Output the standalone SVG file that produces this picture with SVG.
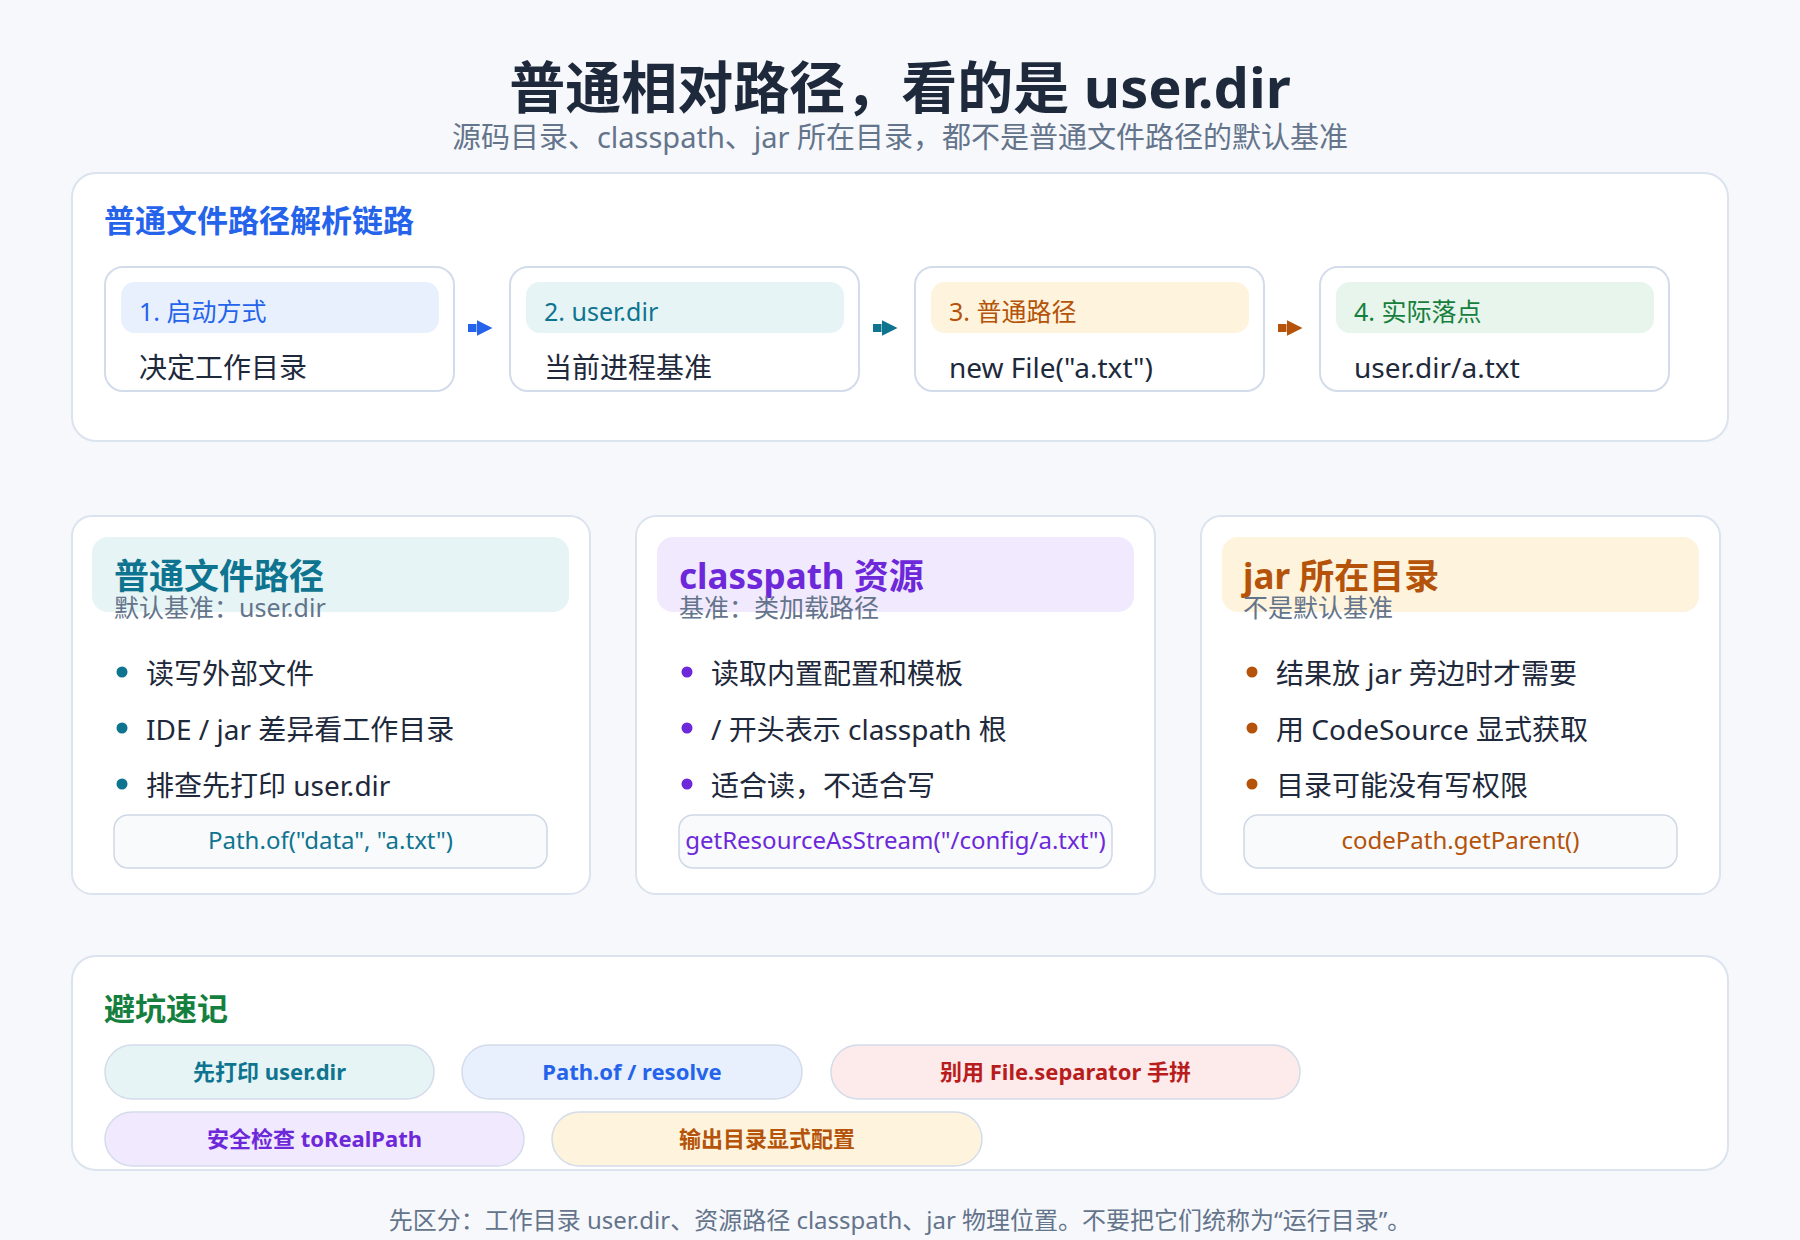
<svg xmlns="http://www.w3.org/2000/svg" width="1800" height="1240" viewBox="0 0 1800 1240">
<defs>
<style>
text{font-family:"Noto Sans","Noto Sans CJK SC",sans-serif}
.panel{fill:#ffffff;stroke:#dbe3ee;stroke-width:2}
.box{fill:#ffffff;stroke:#d3dcea;stroke-width:2}
.code{fill:#f8fafc;stroke:#cfd8e5;stroke-width:1.5}
.pill{stroke:#d3dcea;stroke-width:1.5}
.h1{font-size:56px;font-weight:700;fill:#1e293b}
.sub{font-size:29px;fill:#64748b}
.ptitle{font-size:31px;font-weight:700}
.lbl{font-size:25px}
.main{font-size:28px;fill:#1e293b}
.ctitle{font-size:35px;font-weight:700}
.csub{font-size:25px;fill:#64748b}
.bul{font-size:28px;fill:#1e293b}
.ctext{font-size:24px}
.ptext{font-size:22px;font-weight:700}
.foot{font-size:24px;fill:#64748b}
.blue{fill:#2563eb}.teal{fill:#0e7490}.orange{fill:#b45309}.green{fill:#15803d}.purple{fill:#6d28d9}.red{fill:#b91c1c}
.bg-blue{fill:#e8f0fe}.bg-teal{fill:#e6f4f5}.bg-orange{fill:#fef3dc}.bg-green{fill:#e8f5ec}.bg-purple{fill:#f1e9fd}.bg-red{fill:#fdeaea}
</style>
<marker id="ah-blue" viewBox="0 0 10 10" refX="0" refY="5" markerWidth="16" markerHeight="18" markerUnits="userSpaceOnUse" orient="auto"><path d="M0,0 L10,5 L0,10 z" fill="#2563eb"/></marker>
<marker id="ah-teal" viewBox="0 0 10 10" refX="0" refY="5" markerWidth="16" markerHeight="18" markerUnits="userSpaceOnUse" orient="auto"><path d="M0,0 L10,5 L0,10 z" fill="#0e7490"/></marker>
<marker id="ah-orange" viewBox="0 0 10 10" refX="0" refY="5" markerWidth="16" markerHeight="18" markerUnits="userSpaceOnUse" orient="auto"><path d="M0,0 L10,5 L0,10 z" fill="#b45309"/></marker>
</defs>
<rect x="0" y="0" width="1800" height="1240" fill="#f6f8fc"/>

<g id="header">
<text class="h1" x="900" y="108" text-anchor="middle">普通相对路径，看的是 user.dir</text>
<text class="sub" x="900" y="148" text-anchor="middle">源码目录、classpath、jar 所在目录，都不是普通文件路径的默认基准</text>
</g>

<g id="chain-panel">
<rect class="panel" x="72" y="173" width="1656" height="268" rx="24"/>
<text class="ptitle blue" x="104" y="232">普通文件路径解析链路</text>
</g>

<g id="step1">
<rect class="box" x="105" y="267" width="349" height="124" rx="18"/>
<rect class="bg-blue" x="121" y="282" width="318" height="51" rx="14"/>
<text class="lbl blue" x="139" y="321">1. 启动方式</text>
<text class="main" x="139" y="378">决定工作目录</text>
</g>
<g id="step2">
<rect class="box" x="510" y="267" width="349" height="124" rx="18"/>
<rect class="bg-teal" x="526" y="282" width="318" height="51" rx="14"/>
<text class="lbl teal" x="544" y="321">2. user.dir</text>
<text class="main" x="544" y="378">当前进程基准</text>
</g>
<g id="step3">
<rect class="box" x="915" y="267" width="349" height="124" rx="18"/>
<rect class="bg-orange" x="931" y="282" width="318" height="51" rx="14"/>
<text class="lbl orange" x="949" y="321">3. 普通路径</text>
<text class="main" x="949" y="378">new File("a.txt")</text>
</g>
<g id="step4">
<rect class="box" x="1320" y="267" width="349" height="124" rx="18"/>
<rect class="bg-green" x="1336" y="282" width="318" height="51" rx="14"/>
<text class="lbl green" x="1354" y="321">4. 实际落点</text>
<text class="main" x="1354" y="378">user.dir/a.txt</text>
</g>

<g id="connectors">
<line x1="468" y1="328" x2="476.5" y2="328" stroke="#2563eb" stroke-width="8" marker-end="url(#ah-blue)"/>
<line x1="873" y1="328" x2="881.5" y2="328" stroke="#0e7490" stroke-width="8" marker-end="url(#ah-teal)"/>
<line x1="1278" y1="328" x2="1286.5" y2="328" stroke="#b45309" stroke-width="8" marker-end="url(#ah-orange)"/>
</g>

<g id="card-file">
<rect class="panel" x="72" y="516" width="518" height="378" rx="20"/>
<rect class="bg-teal" x="92" y="537" width="477" height="75" rx="16"/>
<text class="ctitle teal" x="114" y="589">普通文件路径</text>
<text class="csub" x="114" y="617">默认基准：user.dir</text>
<circle class="teal" cx="122" cy="672" r="5.5"/>
<text class="bul" x="146" y="684">读写外部文件</text>
<circle class="teal" cx="122" cy="728" r="5.5"/>
<text class="bul" x="146" y="740">IDE / jar 差异看工作目录</text>
<circle class="teal" cx="122" cy="784" r="5.5"/>
<text class="bul" x="146" y="796">排查先打印 user.dir</text>
<rect class="code" x="114" y="815" width="433" height="53" rx="14"/>
<text class="ctext teal" x="330.5" y="849" text-anchor="middle">Path.of("data", "a.txt")</text>
</g>

<g id="card-classpath">
<rect class="panel" x="636" y="516" width="519" height="378" rx="20"/>
<rect class="bg-purple" x="657" y="537" width="477" height="75" rx="16"/>
<text class="ctitle purple" x="679" y="589">classpath 资源</text>
<text class="csub" x="679" y="617">基准：类加载路径</text>
<circle class="purple" cx="687" cy="672" r="5.5"/>
<text class="bul" x="711" y="684">读取内置配置和模板</text>
<circle class="purple" cx="687" cy="728" r="5.5"/>
<text class="bul" x="711" y="740">/ 开头表示 classpath 根</text>
<circle class="purple" cx="687" cy="784" r="5.5"/>
<text class="bul" x="711" y="796">适合读，不适合写</text>
<rect class="code" x="679" y="815" width="433" height="53" rx="14"/>
<text class="ctext purple" x="895.5" y="849" text-anchor="middle">getResourceAsStream("/config/a.txt")</text>
</g>

<g id="card-jar">
<rect class="panel" x="1201" y="516" width="519" height="378" rx="20"/>
<rect class="bg-orange" x="1222" y="537" width="477" height="75" rx="16"/>
<text class="ctitle orange" x="1243" y="589">jar 所在目录</text>
<text class="csub" x="1243" y="617">不是默认基准</text>
<circle class="orange" cx="1252" cy="672" r="5.5"/>
<text class="bul" x="1276" y="684">结果放 jar 旁边时才需要</text>
<circle class="orange" cx="1252" cy="728" r="5.5"/>
<text class="bul" x="1276" y="740">用 CodeSource 显式获取</text>
<circle class="orange" cx="1252" cy="784" r="5.5"/>
<text class="bul" x="1276" y="796">目录可能没有写权限</text>
<rect class="code" x="1244" y="815" width="433" height="53" rx="14"/>
<text class="ctext orange" x="1460.5" y="849" text-anchor="middle">codePath.getParent()</text>
</g>

<g id="tips-panel">
<rect class="panel" x="72" y="956" width="1656" height="214" rx="24"/>
<text class="ptitle green" x="104" y="1020">避坑速记</text>
</g>
<g id="tip1">
<rect class="pill bg-teal" x="105" y="1045" width="329" height="54" rx="27"/>
<text class="ptext teal" x="269.5" y="1080" text-anchor="middle">先打印 user.dir</text>
</g>
<g id="tip2">
<rect class="pill bg-blue" x="462" y="1045" width="340" height="54" rx="27"/>
<text class="ptext blue" x="632" y="1080" text-anchor="middle">Path.of / resolve</text>
</g>
<g id="tip3">
<rect class="pill bg-red" x="831" y="1045" width="469" height="54" rx="27"/>
<text class="ptext red" x="1065.5" y="1080" text-anchor="middle">别用 File.separator 手拼</text>
</g>
<g id="tip4">
<rect class="pill bg-purple" x="105" y="1112" width="419" height="54" rx="27"/>
<text class="ptext purple" x="314.5" y="1147" text-anchor="middle">安全检查 toRealPath</text>
</g>
<g id="tip5">
<rect class="pill bg-orange" x="552" y="1112" width="430" height="54" rx="27"/>
<text class="ptext orange" x="767" y="1147" text-anchor="middle">输出目录显式配置</text>
</g>

<g id="footer">
<text class="foot" x="900" y="1229" text-anchor="middle">先区分：工作目录 user.dir、资源路径 classpath、jar 物理位置。不要把它们统称为“运行目录”。</text>
</g>
</svg>
